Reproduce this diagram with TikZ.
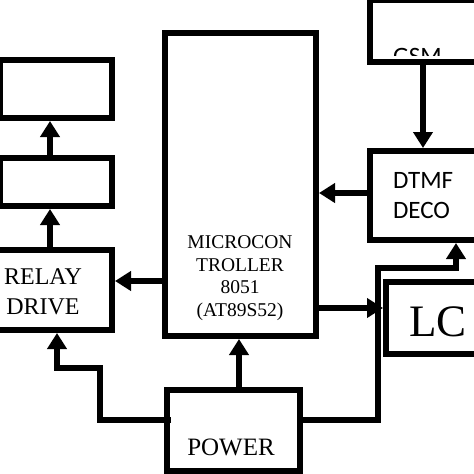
\documentclass[tikz,border=0pt]{standalone}
\usepackage{fontspec}
\setmainfont{Liberation Serif}
\newfontfamily\calfont{Carlito}
\usetikzlibrary{arrows.meta,calc}
\tikzset{
  blk/.style={draw,line width=6pt,rectangle,inner sep=0pt,fill=white},
  conn/.style={line width=6pt,line join=miter},
  arr/.style={conn,-{Triangle[length=16pt,width=19pt]}},
  lbl/.style={inner sep=0pt,outer sep=0pt}
}
\begin{document}
\begin{tikzpicture}[x=1pt,y=-1pt]
\useasboundingbox (0,0) rectangle (474,474);
% boxes
\node[blk,minimum width=112pt,minimum height=58pt] (out1) at (56,89) {};
\node[blk,minimum width=112pt,minimum height=48pt] (out2) at (56,182) {};
\node[blk,minimum width=117pt,minimum height=80pt] (relay) at (53.5,290) {};
\node[blk,minimum width=151pt,minimum height=303pt] (micro) at (240.5,184.5) {};
\node[blk,minimum width=115pt,minimum height=62pt] (gsm) at (427.5,31) {};
\node[blk,minimum width=115pt,minimum height=89pt] (dtmf) at (427.5,195.5) {};
\node[blk,minimum width=99pt,minimum height=72pt] (lcd) at (435.5,318) {};
\node[blk,minimum width=133pt,minimum height=81pt] (power) at (233.5,430.5) {};
% texts (base anchor of a multi-line node = last line's baseline)
\node[lbl,anchor=base,align=center,font=\fontsize{19.5}{22.5}\selectfont] (microtext) at (240,316)
  {MICROCON\\TROLLER\\8051\\(AT89S52)};
\node[lbl,anchor=base,align=center,font=\fontsize{24}{30}\selectfont] (relaytext) at (43,314)
  {RELAY\\DRIVE};
\node[lbl,anchor=base west,align=left,font=\calfont\fontsize{25}{30}\selectfont] (dtmftext) at (393,218)
  {DTMF\\DECO};
\node[lbl,anchor=base,font=\fontsize{25}{30}\selectfont] (powertext) at (231,455) {POWER};
\node[lbl,anchor=base west,font=\fontsize{45}{50}\selectfont] (lcdtext) at (409,336) {LC};
\begin{scope}
  \clip (365,40) rectangle (474,55);
  \node[lbl,anchor=base west,font=\calfont\fontsize{25}{30}\selectfont] (gsmtext) at (393,64) {GSM};
\end{scope}
% connectors
\draw[arr] (out2.north -| 50,0) -- (out1.south -| 50,0);
\draw[arr] (relay.north -| 50,0) -- (out2.south -| 50,0);
\draw[arr] (micro.west |- 0,281) -- (relay.east |- 0,281);
\draw[arr] (dtmf.west |- 0,193) -- (micro.east |- 0,193);
\draw[arr] (gsm.south -| 423,0) -- (dtmf.north -| 423,0);
\draw[arr] (micro.east |- 0,308) -- (lcd.west |- 0,308);
\draw[arr] (power.north -| 239,0) -- (micro.south -| 239,0);
\draw[arr] ($(power.west |- 0,420)+(7,0)$) -- (100,420) -- (100,368) -- (57,368) -- (relay.south -| 57,0);
\draw[arr] (power.east |- 0,420) -- (378,420) -- (378,268) -- (456,268) -- (dtmf.south -| 456,0);
\end{tikzpicture}
\end{document}
